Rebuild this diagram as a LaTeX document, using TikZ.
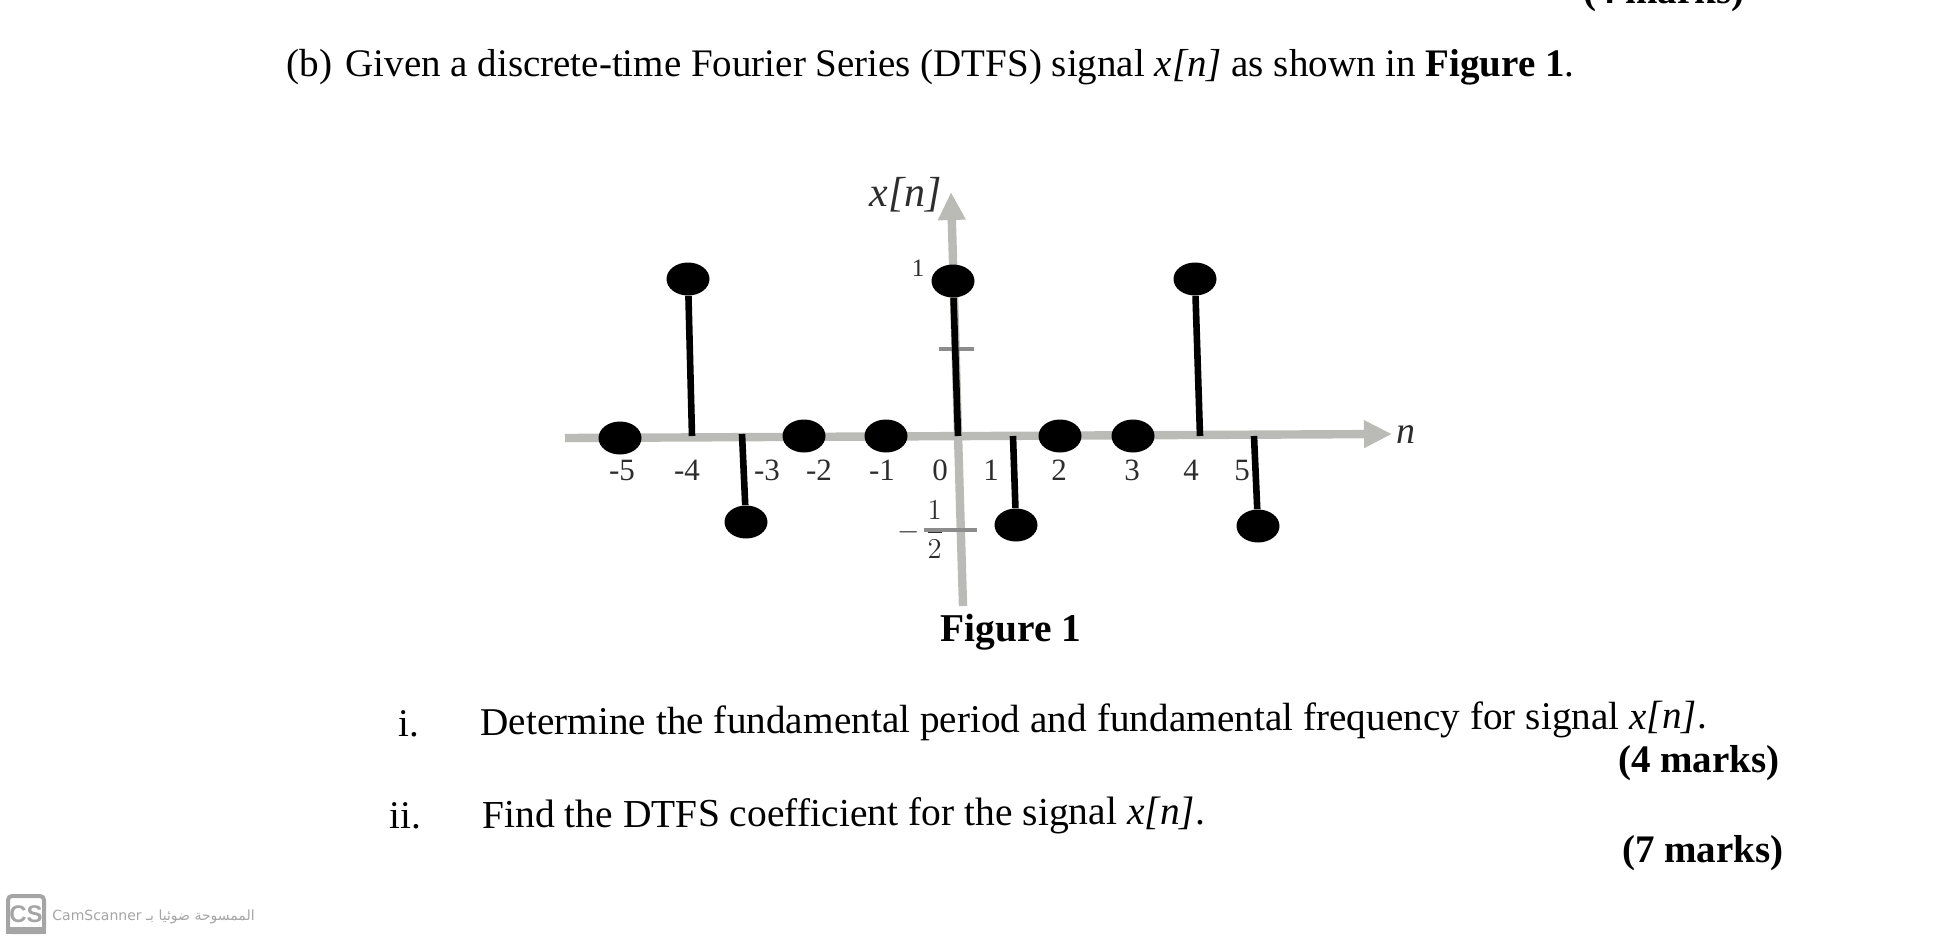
\documentclass[tikz,border=0pt]{standalone}
\usepackage{fontspec}
\setmainfont{Liberation Serif}
\newfontfamily\scanfont[Script=Arabic]{DejaVu Sans}
\newfontfamily\logofont{Liberation Sans}
\TeXXeTstate=1
\usetikzlibrary{arrows.meta,positioning,shapes.geometric}
\definecolor{axisgray}{RGB}{186,186,182}
\definecolor{tickgray}{RGB}{140,140,140}
\definecolor{labelgray}{RGB}{45,45,45}
\definecolor{scangray}{RGB}{165,165,165}
\tikzset{
  dot/.style  ={ellipse,fill=black,minimum width=21.5pt,minimum height=16.5pt,inner sep=0pt},
  stem/.style ={line width=3.3pt,black},
  axis/.style ={line width=4.2pt,axisgray,-{Triangle[length=14pt,width=13pt]}},
  tick/.style ={line width=2.4pt,tickgray},
  lbl/.style  ={font=\fontsize{15.5}{17}\selectfont,text=labelgray,inner sep=0pt},
  para/.style ={anchor=base west,font=\fontsize{19.6}{22}\selectfont,inner sep=0pt},
  marks/.style={anchor=base east,font=\fontsize{19.5}{22}\selectfont\bfseries,inner sep=0pt}
}

\begin{document}
\begin{tikzpicture}[x=0.5pt,y=-0.5pt]
\useasboundingbox (0,0) rectangle (1940,939);

% -------- text above the figure --------
\node[marks] (top) at (1745,3) {(4 marks)};
\node[para] (b) at (286,76) {(b)};
\node[para, font=\fontsize{19.5}{22}\selectfont, right=6.4pt of b.base east, anchor=base west] (given) {Given a discrete-time Fourier Series (DTFS) signal \textit{x[n]} as shown in \textbf{Figure 1}.};

% -------- axes --------
\coordinate (xl) at (565,438);
\coordinate (xr) at (1392,434);
\coordinate (yb) at (963,606);
\coordinate (yt) at (951,192);
\draw[axis] (xl) -- (xr);
\draw[axis] (yb) -- (yt);

% -------- ticks --------
\coordinate (t1a) at (939,349);
\coordinate (t1b) at (974,349);
\coordinate (t2a) at (924,530);
\coordinate (t2b) at (977,530);
\draw[tick] (t1a) -- (t1b);
\draw[tick] (t2a) -- (t2b);

% -------- samples on the axis --------
\foreach \k/\x/\y in {m5/620/438,m2/804/436,m1/886/436,p2/1060/436,p3/1133/436}
  \node[dot] (d\k) at (\x,\y) {};

% -------- samples with stems --------
\foreach \k/\x/\y/\bx/\by in {m4/688/279/692/436,m3/746/522/742/434,z/953/281/958/436,p1/1016/525/1013/436,p4/1195/279/1200/436,p5/1258/526/1254/436}{
  \node[dot] (d\k) at (\x,\y) {};
  \coordinate (b\k) at (\bx,\by);
  \draw[stem] (b\k) -- (d\k);
}

% -------- labels --------
\foreach \t/\x in {-5/622,-4/687,-3/767,-2/819,-1/882,0/940,1/991,2/1059,3/1132,4/1191,5/1242}
  \node[lbl] (l\x) at (\x,470) {\t};
\node[lbl, font=\fontsize{12.5}{14}\selectfont] (one) at (918,268) {1};
\node[lbl] (half) at (921,530) {$-\,\displaystyle\frac{1}{2}$};
\node[lbl, font=\fontsize{21}{23}\selectfont\itshape] (xn) at (906,195) {x[n]};
\node[lbl, font=\fontsize{19}{21}\selectfont\itshape] (n) at (1406,435) {n};
\node[para, anchor=center, font=\fontsize{19.7}{22}\selectfont\bfseries] (fig) at (1011,632) {Figure 1};

% -------- questions --------
\node[para] (i) at (398,736) {i.};
\node[para, font=\fontsize{19.65}{22}\selectfont, rotate=0.3] (qi) at (480,735) {Determine the fundamental period and fundamental frequency for signal \textit{x[n]}.};
\node[marks] (m4) at (1780,772) {(4 marks)};
\node[para] (ii) at (389,828) {ii.};
\node[para, font=\fontsize{19.8}{22}\selectfont, rotate=0.3] (qii) at (482,828) {Find the DTFS coefficient for the signal \textit{x[n]}.};
\node[marks] (m7) at (1784,862) {(7 marks)};

% -------- scanner stamp --------
\node[draw=scangray, line width=2pt, rounded corners=2pt, minimum size=18pt, inner sep=0pt, text=scangray, font=\logofont\bfseries\fontsize{12}{12}\selectfont] (cs) at (26,914) {CS};
\fill[scangray] (cs.south west) rectangle ([yshift=3.5pt]cs.south east);
\node[right=3pt of cs, yshift=-1.6pt, inner sep=0pt, text=scangray, font=\scanfont\fontsize{7}{8}\selectfont] (scan) {\beginR الممسوحة ضوئيا بـ \beginL CamScanner\endL\endR};

\end{tikzpicture}
\end{document}
